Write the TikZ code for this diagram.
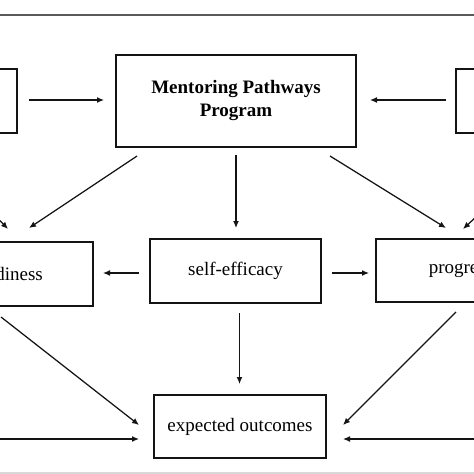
\documentclass[tikz,border=0pt]{standalone}
\usepackage{fontspec}
\setmainfont{Liberation Serif}
\usetikzlibrary{arrows.meta}
\definecolor{ink}{gray}{0.08}
\definecolor{band}{gray}{0.85}
\definecolor{rule}{gray}{0.35}
\begin{document}
\begin{tikzpicture}[x=1pt,y=-1pt,
  box/.style={draw=ink,line width=1.5pt,rectangle,inner sep=0pt,align=center,
    font=\fontsize{19}{23}\selectfont,text=black},
  conn/.style={draw=ink,line width=1.25pt,-{Latex[length=7pt,width=6pt]}}]
\useasboundingbox (0,0) rectangle (474,474);
\clip (0,0) rectangle (474,474);
\fill[white] (0,0) rectangle (474,474);
\fill[band] (0,472) rectangle (474,474);
\draw[rule,line width=1.3pt] (-2,15) -- (476,15);
% boxes
\node[box,minimum width=97pt,minimum height=64pt] (tl) at (-31.5,101) {};
\node[box,minimum width=240pt,minimum height=92pt,font=\bfseries\fontsize{19}{23}\selectfont] (mp) at (236,101) {Mentoring Pathways\\Program};
\node[box,minimum width=97pt,minimum height=64pt] (tr) at (504.5,101) {};
\node[box,minimum width=171pt,minimum height=64pt] (rd) at (7.5,274) {readiness};
\node[box,minimum width=171pt,minimum height=64pt] (se) at (235.5,271) {self-efficacy};
\node[box,minimum width=170pt,minimum height=63pt] (pg) at (461,270.5) {progress};
\node[box,minimum width=172pt,minimum height=63pt] (eo) at (240,426.5) {expected outcomes};
% connector ends
\coordinate (a1s) at (29,100);   \coordinate (a1e) at (104,100);
\coordinate (a2s) at (446,100);  \coordinate (a2e) at (370,100);
\coordinate (a3s) at (137,156);  \coordinate (a3e) at (29,228);
\coordinate (a4s) at (236,155);  \coordinate (a4e) at (236,228);
\coordinate (a5s) at (330,156);  \coordinate (a5e) at (446,228);
\coordinate (a6s) at (-15,205);  \coordinate (a6e) at (8,229);
\coordinate (a7s) at (489,205);  \coordinate (a7e) at (463,229);
\coordinate (a8s) at (139,273);  \coordinate (a8e) at (103,273);
\coordinate (a9s) at (332,273);  \coordinate (a9e) at (369,273);
\coordinate (a10s) at (239.5,313); \coordinate (a10e) at (239.5,384);
\coordinate (a11s) at (1,317);   \coordinate (a11e) at (139,425);
\coordinate (a12s) at (456,312); \coordinate (a12e) at (343,425);
\coordinate (a13s) at (-5,439);  \coordinate (a13e) at (139,439);
\coordinate (a14s) at (480,439); \coordinate (a14e) at (343,439);
\foreach \i in {1,...,14} {\draw[conn] (a\i s) -- (a\i e);}
\end{tikzpicture}
\end{document}
